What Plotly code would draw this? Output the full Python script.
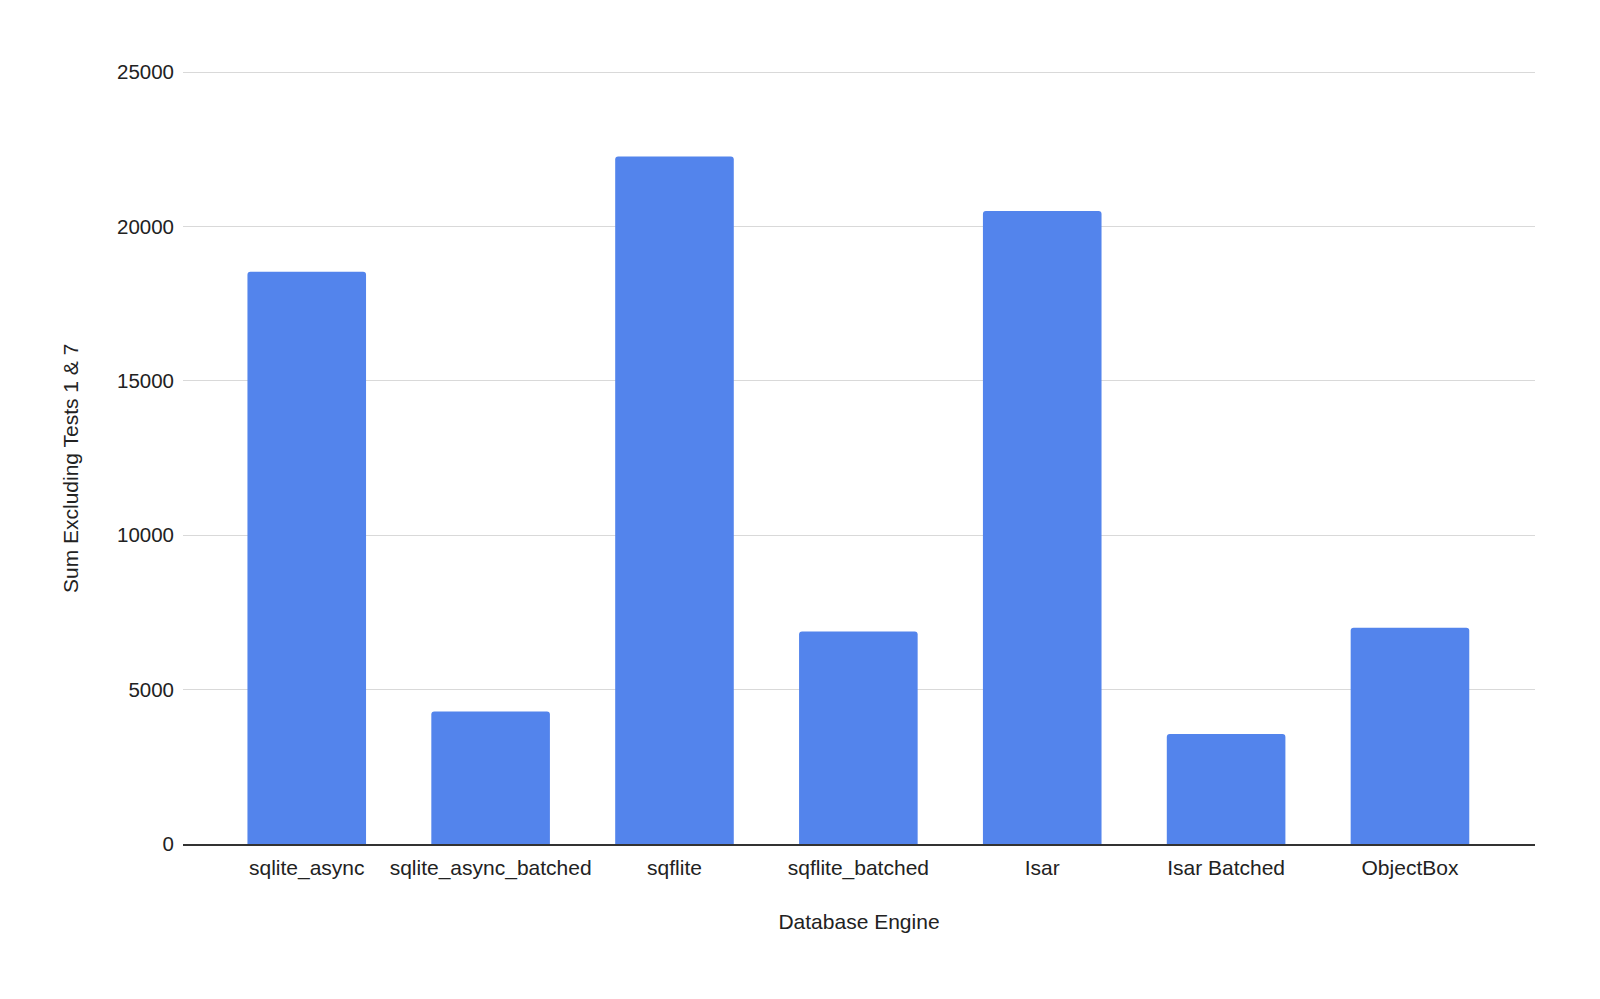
import plotly.graph_objects as go

categories = ["sqlite_async", "sqlite_async_batched", "sqflite", "sqflite_batched",
              "Isar", "Isar Batched", "ObjectBox"]
values = [18530, 4290, 22270, 6880, 20500, 3560, 7000]
y_ticks = [0, 5000, 10000, 15000, 20000, 25000]

BAR_COLOR = "#5384ec"
TEXT_COLOR = "#222222"
FONT = "Liberation Sans, Arial, sans-serif"

fig = go.Figure()
fig.add_trace(go.Bar(
    x=categories,
    y=values,
    width=0.645,
    marker=dict(color=BAR_COLOR, line=dict(width=0), cornerradius=3),
    showlegend=False,
))

# page body has an 8px default margin, so the figure is sized/offset to compensate
fig.update_layout(
    width=1592,
    height=991,
    paper_bgcolor="white",
    plot_bgcolor="white",
    margin=dict(l=175, r=65, t=61, b=155, autoexpand=False),
    font=dict(family=FONT, size=21, color=TEXT_COLOR),
    xaxis=dict(
        range=[-0.673, 6.68],
        showgrid=False,
        showline=True,
        linecolor="#333333",
        linewidth=1.5,
        ticks="",
        ticklabelstandoff=4,
        tickfont=dict(size=21, color=TEXT_COLOR),
        title=dict(text="Database Engine", font=dict(size=21, color=TEXT_COLOR), standoff=35),
        automargin=False,
    ),
    yaxis=dict(
        range=[0, 25100],
        tickvals=y_ticks,
        ticktext=[str(v) for v in y_ticks],
        showgrid=True,
        gridcolor="#d9d9d9",
        gridwidth=1.3,
        zeroline=False,
        showline=False,
        ticks="",
        ticklabelstandoff=8,
        tickfont=dict(size=20.5, color=TEXT_COLOR),
        automargin=False,
    ),
    annotations=[dict(
        text="Sum Excluding Tests 1 & 7",
        xref="paper", yref="paper",
        x=-0.0828, y=0.4839,
        xanchor="center", yanchor="middle",
        textangle=-90,
        showarrow=False,
        font=dict(size=21, color=TEXT_COLOR),
    )],
)

fig.write_html("out.html")
